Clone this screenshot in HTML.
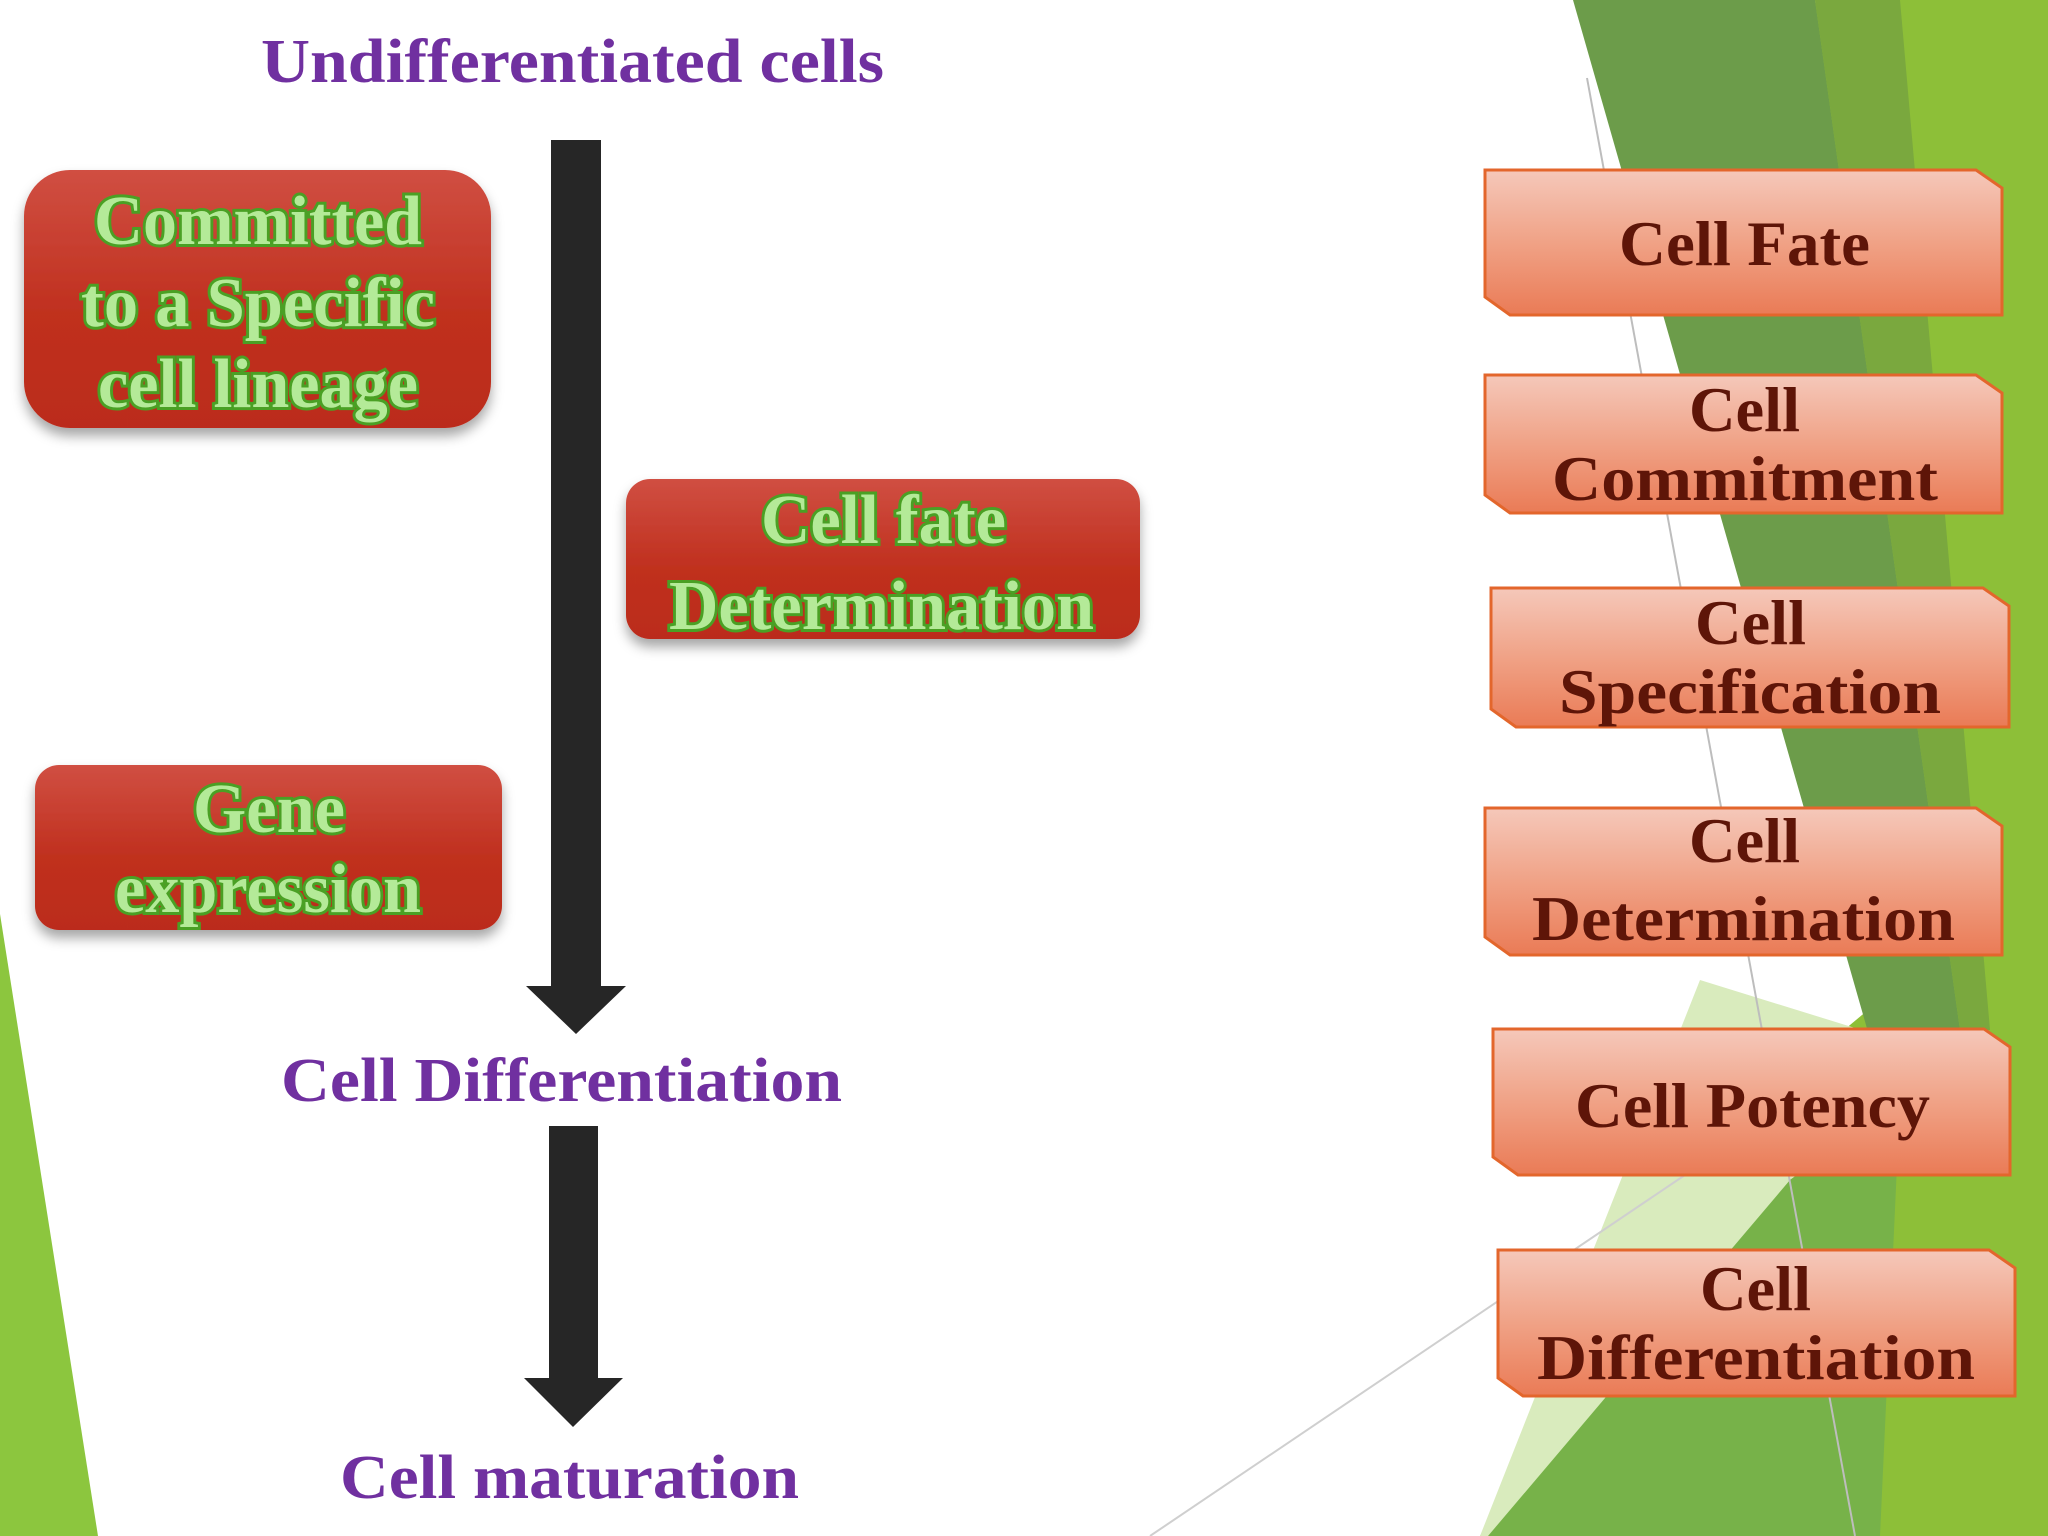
<!DOCTYPE html>
<html><head><meta charset="utf-8"><style>html,body{margin:0;padding:0;background:#fff}svg{display:block}</style></head>
<body>
<svg width="2048" height="1536" viewBox="0 0 2048 1536" xmlns="http://www.w3.org/2000/svg">
<defs>
<linearGradient id="red" x1="0" y1="0" x2="0" y2="1"><stop offset="0" stop-color="#d04f42"/><stop offset="0.55" stop-color="#c0301f"/><stop offset="1" stop-color="#bb2c1c"/></linearGradient>
<linearGradient id="org" x1="0" y1="0" x2="0" y2="1"><stop offset="0" stop-color="#f5c8ba"/><stop offset="0.5" stop-color="#f0a286"/><stop offset="1" stop-color="#ea7b56"/></linearGradient>
<filter id="sh" x="-10%" y="-10%" width="120%" height="130%"><feDropShadow dx="0" dy="8" stdDeviation="6" flood-color="#000" flood-opacity="0.35"/></filter>
</defs>
<!-- background greens -->
<polygon points="0,914 98,1536 0,1536" fill="#8cc63e"/>
<polygon points="1815,0 2048,0 2048,1536 1480,1536 1700,1150 1880,1000" fill="#8dbf38"/>
<polygon points="1573,0 1815,0 1960,1030 1868,1032" fill="#6c9c4a"/>
<polygon points="1815,0 1900,0 1990,1030 1960,1030" fill="#7aa83e"/>
<polygon points="1700,980 1868,1032 1900,1100 1790,1180 1540,1536 1480,1536" fill="#d9ebbd"/>
<polygon points="1790,1180 1900,1100 1880,1536 1488,1536" fill="#77b249"/>
<line x1="1587" y1="78" x2="1855" y2="1536" stroke="#bdbdbd" stroke-width="2"/>
<line x1="1150" y1="1536" x2="1685" y2="1175" stroke="#cfcfcf" stroke-width="2"/>
<!-- arrows -->
<polygon points="551,140 601,140 601,986 626,986 576,1034 526,986 551,986" fill="#262626"/>
<polygon points="549,1126 598,1126 598,1378 623,1378 573,1427 524,1378 549,1378" fill="#262626"/>
<!-- purple titles -->
<g font-family="Liberation Serif, serif" font-weight="bold" fill="#7030a0" font-size="62">
<text x="261" y="82" textLength="623" lengthAdjust="spacingAndGlyphs">Undifferentiated cells</text>
<text x="281" y="1101" textLength="561" lengthAdjust="spacingAndGlyphs">Cell Differentiation</text>
<text x="340" y="1498" textLength="459" lengthAdjust="spacingAndGlyphs">Cell maturation</text>
</g>
<!-- red boxes -->
<rect x="24" y="170" width="467" height="258" rx="46" fill="url(#red)" filter="url(#sh)"/>
<rect x="626" y="479" width="514" height="160" rx="24" fill="url(#red)" filter="url(#sh)"/>
<rect x="35" y="765" width="467" height="165" rx="24" fill="url(#red)" filter="url(#sh)"/>
<g font-family="Liberation Serif, serif" font-weight="bold" fill="#b4ea98" stroke="#4aa024" stroke-width="6" paint-order="stroke" font-size="70">
<text x="94" y="244" textLength="328" lengthAdjust="spacingAndGlyphs">Committed</text>
<text x="81" y="326" textLength="354" lengthAdjust="spacingAndGlyphs">to a Specific</text>
<text x="98" y="407" textLength="320" lengthAdjust="spacingAndGlyphs">cell lineage</text>
<text x="761" y="543" textLength="245" lengthAdjust="spacingAndGlyphs">Cell fate</text>
<text x="669" y="629" textLength="425" lengthAdjust="spacingAndGlyphs">Determination</text>
<text x="193" y="832" textLength="152" lengthAdjust="spacingAndGlyphs">Gene</text>
<text x="115" y="912" textLength="306" lengthAdjust="spacingAndGlyphs">expression</text>
</g>
<!-- orange boxes -->
<g fill="url(#org)" stroke="#e3662c" stroke-width="3">
<polygon points="1485,170 1976,170 2002,188 2002,315 1510,315 1485,297"/>
<polygon points="1485,375 1976,375 2002,393 2002,513 1510,513 1485,495"/>
<polygon points="1491,588 1983,588 2009,606 2009,727 1516,727 1491,709"/>
<polygon points="1485,808 1976,808 2002,826 2002,955 1510,955 1485,937"/>
<polygon points="1493,1029 1984,1029 2010,1047 2010,1175 1518,1175 1493,1157"/>
<polygon points="1498,1250 1989,1250 2015,1268 2015,1396 1523,1396 1498,1378"/>
</g>
<g font-family="Liberation Serif, serif" font-weight="bold" fill="#5e1508" font-size="64">
<text x="1619" y="265" textLength="251" lengthAdjust="spacingAndGlyphs">Cell Fate</text>
<text x="1689" y="431" textLength="111" lengthAdjust="spacingAndGlyphs">Cell</text>
<text x="1552" y="500" textLength="386" lengthAdjust="spacingAndGlyphs">Commitment</text>
<text x="1695" y="644" textLength="111" lengthAdjust="spacingAndGlyphs">Cell</text>
<text x="1559" y="713" textLength="382" lengthAdjust="spacingAndGlyphs">Specification</text>
<text x="1689" y="862" textLength="111" lengthAdjust="spacingAndGlyphs">Cell</text>
<text x="1532" y="940" textLength="423" lengthAdjust="spacingAndGlyphs">Determination</text>
<text x="1575" y="1127" textLength="355" lengthAdjust="spacingAndGlyphs">Cell Potency</text>
<text x="1700" y="1310" textLength="111" lengthAdjust="spacingAndGlyphs">Cell</text>
<text x="1537" y="1379" textLength="438" lengthAdjust="spacingAndGlyphs">Differentiation</text>
</g>
</svg>
</body></html>
